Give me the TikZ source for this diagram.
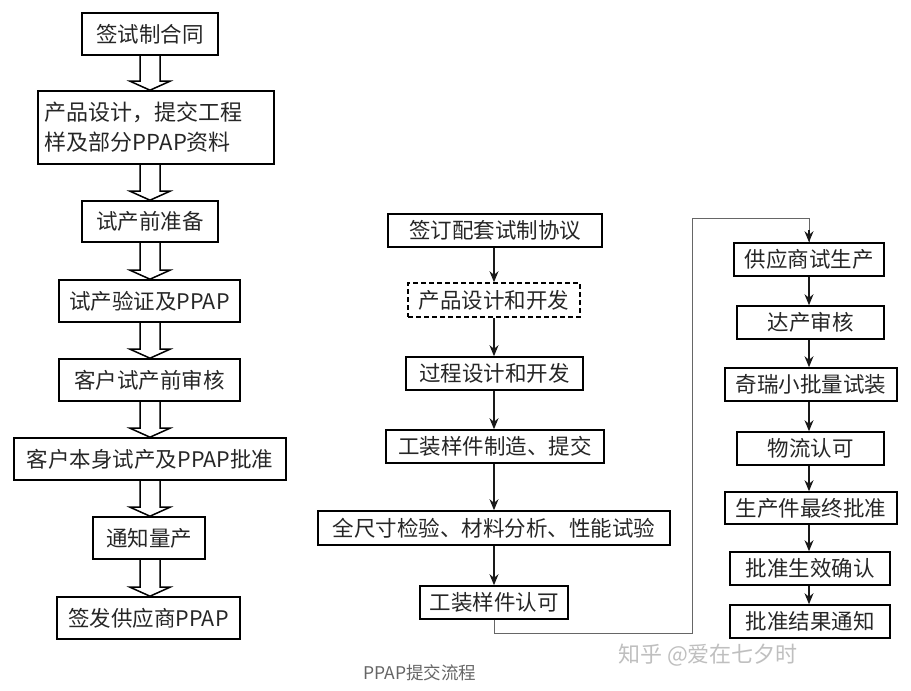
\documentclass[tikz,border=0pt]{standalone}
\usepackage{fontspec}
\setmainfont{Noto Sans CJK SC}
\usetikzlibrary{calc,arrows.meta}
\begin{document}
\begin{tikzpicture}[x=1pt,y=-1pt,
  box/.style={draw=black, line width=1.6pt, inner sep=0pt, font=\fontsize{21.5}{25}\selectfont, text=black!85},
  dbox/.style={box, dashed, dash pattern=on 5pt off 3pt},
  hollow/.style={draw=black, line width=1.5pt, line join=miter},
  arr/.style={draw=black!90, line width=1.1pt, -{Stealth[length=11pt,width=9pt]}},
  loopline/.style={draw=black!60, line width=0.9pt}]
\useasboundingbox (0,0) rectangle (911,691);
% left column
\node[box, minimum width=136, minimum height=42] (L1) at (150,34) {签试制合同};
\node[box, minimum width=236, minimum height=73, text width=222, align=left, font=\fontsize{22}{30}\selectfont] (L2) at (156,127.5) {产品设计，提交工程\\样及部分PPAP资料};
\node[box, minimum width=136, minimum height=41] (L3) at (150,221.5) {试产前准备};
\node[box, minimum width=181, minimum height=42] (L4) at (149.5,301) {试产验证及PPAP};
\node[box, minimum width=181, minimum height=42] (L5) at (149.5,380) {客户试产前审核};
\node[box, minimum width=272, minimum height=42] (L6) at (150,459) {客户本身试产及PPAP批准};
\node[box, minimum width=112, minimum height=42] (L7) at (149,538) {通知量产};
\node[box, minimum width=183, minimum height=42] (L8) at (148.5,618) {签发供应商PPAP};
\foreach \a/\b in {L1/L2,L2/L3,L3/L4,L4/L5,L5/L6,L6/L7,L7/L8}{
  \draw[hollow] let \p0=(L1), \p1=(\a.south), \p2=(\b.north) in
    (\x0-10pt,\y1) -- (\x0-10pt,\y2+9pt) -- (\x0-20pt,\y2+9pt) -- (\x0,\y2)
    -- (\x0+20pt,\y2+9pt) -- (\x0+10pt,\y2+9pt) -- (\x0+10pt,\y1);
}
% middle column
\node[box, minimum width=214, minimum height=33] (M1) at (495,230.5) {签订配套试制协议};
\node[dbox, minimum width=172, minimum height=34] (M2) at (494,300) {产品设计和开发};
\node[box, minimum width=177, minimum height=33] (M3) at (494.5,373.5) {过程设计和开发};
\node[box, minimum width=218, minimum height=33] (M4) at (495,446.5) {工装样件制造、提交};
\node[box, minimum width=352, minimum height=34] (M5) at (494,528) {全尺寸检验、材料分析、性能试验};
\node[box, minimum width=148, minimum height=33] (M6) at (494,602.5) {工装样件认可};
\foreach \a/\b in {M1/M2,M2/M3,M3/M4,M4/M5,M5/M6}{
  \draw[arr] (M6.south |- \a.south) -- (M6.south |- \b.north);
}
% right column
\node[box, minimum width=150, minimum height=33] (R1) at (809,259.5) {供应商试生产};
\node[box, minimum width=147, minimum height=33] (R2) at (810.5,322.5) {达产审核};
\node[box, minimum width=172, minimum height=33] (R3) at (811,384.5) {奇瑞小批量试装};
\node[box, minimum width=147, minimum height=33] (R4) at (810.5,448.5) {物流认可};
\node[box, minimum width=172, minimum height=32] (R5) at (811,508) {生产件最终批准};
\node[box, minimum width=160, minimum height=33] (R6) at (810,568.5) {批准生效确认};
\node[box, minimum width=160, minimum height=33] (R7) at (810,621.5) {批准结果通知};
\foreach \a/\b in {R1/R2,R2/R3,R3/R4,R4/R5,R5/R6,R6/R7}{
  \draw[arr] (R1.south |- \a.south) -- (R1.south |- \b.north);
}
% loop connector
\coordinate (c1) at (692,633);
\coordinate (c2) at (692,218);
\draw[loopline] (M6.south) |- (c1) -- (c2) -| (R1.north);
\draw[arr] ($(R1.north)+(0,-12)$) -- (R1.north);
% caption and watermark
\node[text=black!60, font=\fontsize{17.5}{20}\selectfont] (cap) at (420,673) {PPAP提交流程};
\node[text=black!25, font=\fontsize{22}{24}\selectfont] (wm) at (708,655) {知乎 @爱在七夕时};
\end{tikzpicture}
\end{document}
